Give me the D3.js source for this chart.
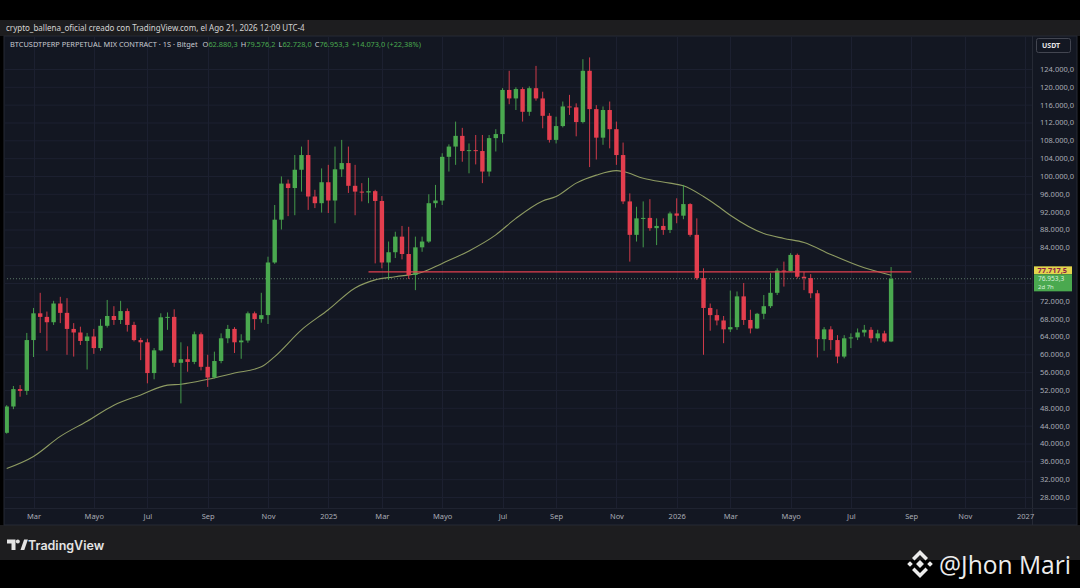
<!DOCTYPE html>
<html>
<head>
<meta charset="utf-8">
<script src="https://cdn.jsdelivr.net/npm/d3@7"></script>
<style>
  html, body { margin: 0; padding: 0; background: #000; }
  svg { display: block; font-family: "Noto Sans", Roboto, sans-serif; }
</style>
</head>
<body>
<svg id="chart" width="1080" height="588"></svg>
<script>
// weekly BTCUSDT perpetual candles, first bar = week of 5 Feb 2024
const firstWeek = "2024-02-05";
const open = [
  42400, 48300, 52200, 51800, 63200, 69200, 68400, 67200, 71400, 69300,
  65700, 64900, 63000, 64000, 61400, 66400, 68600, 67700, 69700, 66600,
  63200, 62700, 55800, 60900, 68300, 68400, 58100, 58900, 58300, 64500,
  57200, 54800, 58500, 63600, 65700, 62700, 63100, 69200, 67900, 68800,
  80600, 90200, 98300, 97300, 101400, 104700, 95400, 93900, 98600, 94500,
  101500, 102900, 97800, 96500, 96300, 96600, 94400, 80600, 82900, 86400,
  82500, 77800, 84000, 85300, 93900, 94500, 104300, 106600, 109000, 105600,
  105800, 105600, 101000, 108500, 109400, 119300, 117400, 119500, 114400, 119700,
  117400, 113500, 108100, 111200, 115600, 115400, 112100, 123600, 115000, 108600,
  114800, 110500, 104700, 94300, 86800, 90500, 90600, 88300, 88800, 87900,
  91600, 91100, 93700, 86800, 77100, 70400, 68800, 67600, 65600, 66100,
  73000, 67700, 65800, 69100, 70800, 73800, 78800, 78700, 82300, 77400,
  77100, 73700, 63400, 65600, 63200, 59500, 63600, 63800, 64900, 65500,
  63600, 64700, 62880.3
];
const high = [
  48600, 52900, 53100, 64800, 70400, 73800, 69600, 72000, 72900, 72600,
  67000, 66200, 64800, 65700, 67900, 72200, 70800, 72000, 70300, 67300,
  63700, 63500, 61400, 69200, 69400, 70100, 62700, 61800, 65100, 64900,
  59900, 60600, 64700, 66600, 66100, 64500, 69600, 69600, 73800, 81900,
  93500, 99900, 99200, 104700, 106600, 108100, 96900, 101700, 102500, 106600,
  108100, 106600, 102500, 98400, 99600, 96900, 95500, 85300, 87500, 88800,
  88600, 86400, 86400, 95900, 98000, 105100, 107100, 112200, 110800, 107300,
  109200, 109200, 109200, 110500, 119700, 123600, 119900, 119900, 120100, 124700,
  118900, 114100, 113300, 116700, 118200, 116300, 126200, 126600, 115900, 115600,
  116700, 112200, 107500, 96100, 93100, 94300, 94800, 90500, 90500, 92000,
  95000, 98000, 93900, 90500, 79300, 71400, 70100, 68600, 74300, 74100,
  76000, 70000, 69300, 73300, 78200, 79300, 80800, 82700, 82600, 78500,
  78000, 74400, 66100, 66300, 64300, 64300, 64700, 65800, 66600, 66100,
  65500, 65300, 79576.2
];
const low = [
  42200, 47700, 50500, 50900, 59400, 64800, 60800, 66600, 67000, 59900,
  59500, 62100, 56600, 60100, 60800, 66000, 66600, 66800, 65100, 62900,
  58700, 53500, 54400, 60700, 65500, 57200, 49000, 56100, 57800, 56400,
  52700, 54600, 58000, 62500, 60300, 59000, 62600, 65500, 67100, 66800,
  80300, 88000, 91000, 91200, 96500, 92400, 92800, 91800, 91700, 89400,
  99800, 96200, 91200, 94300, 93900, 80400, 79300, 76700, 81600, 81300,
  76900, 74400, 83000, 85000, 92900, 93500, 101000, 102500, 103200, 100600,
  102600, 98400, 99900, 105500, 107500, 116100, 114800, 112200, 113500, 116900,
  110700, 107500, 107300, 110900, 113700, 108900, 111800, 102000, 103700, 107000,
  106200, 102500, 93700, 80800, 85300, 84000, 87700, 84500, 86800, 87200,
  89400, 90300, 86400, 76700, 59900, 65300, 66500, 62500, 65000, 65500,
  66600, 64700, 65700, 67900, 70400, 73300, 75200, 78500, 77000, 74400,
  72600, 59300, 60800, 61000, 58000, 59100, 61400, 63200, 64000, 62600,
  62900, 62600, 62728.0
];
const close = [
  48300, 52200, 51800, 63200, 69200, 68400, 67200, 71400, 69300, 65700,
  64900, 63000, 64000, 61400, 66400, 68600, 67700, 69700, 66600, 63200,
  62700, 55800, 60900, 68300, 68400, 58100, 58900, 58300, 64500, 57200,
  54800, 58500, 63600, 65700, 62700, 63100, 69200, 67900, 68800, 80600,
  90200, 98300, 97300, 101400, 104700, 95400, 93900, 98600, 94500, 101500,
  102900, 97800, 96500, 96300, 96600, 94400, 80600, 82900, 86400, 82500,
  77800, 84000, 85300, 93900, 94500, 104300, 106600, 109000, 105600, 105800,
  105600, 101000, 108500, 109400, 119300, 117400, 119500, 114400, 119700, 117400,
  113500, 108100, 111200, 115600, 115400, 112100, 123600, 115000, 108600, 114800,
  110500, 104700, 94300, 86800, 90500, 90600, 88300, 88800, 87900, 91600,
  91100, 93700, 86800, 77100, 70400, 68800, 67600, 65600, 66100, 73000,
  67700, 65800, 69100, 70800, 73800, 78800, 78700, 82300, 77400, 77100,
  73700, 63400, 65600, 63200, 59500, 63600, 63800, 64900, 65500, 63600,
  64700, 62880.3, 76953.3
];

// moving average read at sample weeks (week index from firstWeek)
const maWeek = [0, 4, 8, 12, 16, 20, 24, 26, 30, 34, 38, 40, 44, 48, 52, 55, 58, 62,
  65, 69, 73, 76, 80, 82, 85, 88, 91, 92, 95, 99, 101, 104, 106, 108, 113, 116,
  119, 123, 128, 132];
const maValue = [34400, 37100, 41600, 45000, 48600, 50900, 53100, 53300, 54400,
  55800, 57200, 59500, 65500, 70000, 74900, 76700, 77400, 78400, 80400, 83200,
  86800, 90500, 94400, 95400, 98400, 100200, 101200, 101000, 99500, 98400, 97800,
  95400, 93400, 91200, 87100, 86000, 85100, 82400, 79400, 77717.5];

const priceTicks = [28000, 32000, 36000, 40000, 44000, 48000, 52000, 56000, 60000,
  64000, 68000, 72000, 76000, 80000, 84000, 88000, 92000, 96000, 100000, 104000,
  108000, 112000, 116000, 120000, 124000];
const monthTicks = ["2024-03-04", "2024-05-06", "2024-07-01", "2024-09-02", "2024-11-04",
  "2025-01-06", "2025-03-03", "2025-05-05", "2025-07-07", "2025-09-01", "2025-11-03",
  "2026-01-05", "2026-03-02", "2026-05-04", "2026-07-06", "2026-09-07", "2026-11-02",
  "2027-01-04"];
const monthLabels = ["Mar", "Mayo", "Jul", "Sep", "Nov", "2025", "Mar", "Mayo", "Jul",
  "Sep", "Nov", "2026", "Mar", "Mayo", "Jul", "Sep", "Nov", "2027"];

// horizontal level drawn on the chart
const levelPrice = 78500;
const levelFrom = "2025-02-17";
const levelTo = "2026-09-07";

const changeText = "+14.073,0 (+22,38%)";
const countdown = "2d 7h";

// ---------------------------------------------------------------
const svg = d3.select("#chart");
const W = 1080;
const panel = { left: 4, right: 1077, top: 36, bottom: 525 };
const plotRight = 1032;
const plotBottom = 508;

const upColor = "#4aa94f";
const downColor = "#e33e4e";
const textColor = "#a9acb5";

const parse = d3.utcParse("%Y-%m-%d");
const start = parse(firstWeek);
const weekDate = i => d3.utcDay.offset(start, 7 * i);
const candles = open.map((o, i) => ({
  date: weekDate(i), o, h: high[i], l: low[i], c: close[i]
}));
const last = candles[candles.length - 1];
const maLast = maValue[maValue.length - 1];

const x = d3.scaleUtc()
  .domain([start, weekDate(153)])
  .range([6.7, 1031.8]);
const y = d3.scaleLinear()
  .domain([28000, 124000])
  .range([497, 69]);

const tvLocale = d3.formatLocale({ decimal: ",", thousands: ".", grouping: [3], currency: ["", ""] });
const fmt = tvLocale.format(",.1f");

// frame
svg.append("rect").attr("width", W).attr("height", 588).attr("fill", "#000");
svg.append("rect").attr("x", 0).attr("y", 20).attr("width", W).attr("height", 16).attr("fill", "#1d1d1f");
svg.append("rect").attr("x", 0).attr("y", panel.bottom).attr("width", W).attr("height", 35).attr("fill", "#1d1d1f");
svg.append("rect")
  .attr("x", panel.left).attr("y", panel.top)
  .attr("width", panel.right - panel.left).attr("height", panel.bottom - panel.top)
  .attr("fill", "#131722").attr("stroke", "#262a35").attr("stroke-width", 1);

svg.append("text")
  .attr("x", 6).attr("y", 31)
  .attr("font-size", 8).attr("fill", "#d4d4d4")
  .text("crypto_ballena_oficial creado con TradingView.com, el Ago 21, 2026 12:09 UTC-4");

// grid
const grid = svg.append("g").attr("class", "grid");
grid.selectAll(".hgrid")
  .data(priceTicks)
  .enter()
  .append("line")
  .attr("x1", panel.left + 1).attr("x2", plotRight)
  .attr("y1", d => y(d) + 0.5).attr("y2", d => y(d) + 0.5)
  .attr("stroke", "#1c2030");
grid.selectAll(".vgrid")
  .data(monthTicks)
  .enter()
  .append("line")
  .attr("x1", d => Math.round(x(parse(d))) + 0.5).attr("x2", d => Math.round(x(parse(d))) + 0.5)
  .attr("y1", panel.top + 1).attr("y2", plotBottom)
  .attr("stroke", "#1c2030");

// axis separators
svg.append("line")
  .attr("x1", plotRight + 0.5).attr("x2", plotRight + 0.5)
  .attr("y1", panel.top).attr("y2", panel.bottom)
  .attr("stroke", "#262a35");
svg.append("line")
  .attr("x1", panel.left).attr("x2", panel.right)
  .attr("y1", plotBottom + 0.5).attr("y2", plotBottom + 0.5)
  .attr("stroke", "#1f2330");

const plot = svg.append("g");
plot.append("clipPath").attr("id", "clip")
  .append("rect")
  .attr("x", panel.left + 1).attr("y", panel.top + 1)
  .attr("width", plotRight - panel.left - 1).attr("height", plotBottom - panel.top - 1);
const body = plot.append("g").attr("clip-path", "url(#clip)");

// last price dotted line
body.append("line")
  .attr("x1", panel.left).attr("x2", plotRight)
  .attr("y1", y(last.c)).attr("y2", y(last.c))
  .attr("stroke", "#6f8f78").attr("stroke-width", 0.8)
  .attr("stroke-dasharray", "1,2");

// moving average
const maLine = d3.line()
  .x(d => x(weekDate(d[0])))
  .y(d => y(d[1]))
  .curve(d3.curveMonotoneX);
body.append("path")
  .datum(maWeek.map((w, i) => [w, maValue[i]]))
  .attr("d", maLine)
  .attr("fill", "none")
  .attr("stroke", "#8e9b62")
  .attr("stroke-width", 1.1);

// candles
const bw = 4.4;
const candle = body.selectAll(".candle")
  .data(candles)
  .enter()
  .append("g")
  .attr("class", "candle");
candle.append("line")
  .attr("x1", d => x(d.date)).attr("x2", d => x(d.date))
  .attr("y1", d => y(d.h)).attr("y2", d => y(d.l))
  .attr("stroke", d => d.c >= d.o ? upColor : downColor)
  .attr("stroke-width", 0.9);
candle.append("rect")
  .attr("x", d => x(d.date) - bw / 2)
  .attr("y", d => y(Math.max(d.o, d.c)))
  .attr("width", bw)
  .attr("height", d => Math.max(1, Math.abs(y(d.o) - y(d.c))))
  .attr("fill", d => d.c >= d.o ? upColor : downColor);

// horizontal level
body.append("line")
  .attr("x1", x(parse(levelFrom))).attr("x2", x(parse(levelTo)))
  .attr("y1", y(levelPrice)).attr("y2", y(levelPrice))
  .attr("stroke", "#e2404f").attr("stroke-width", 1.2);

// price tags sit over the scale, labels under them are hidden
const maTagY = y(maLast) - 9;
const lastTagY = maTagY + 8;
const tagBottom = lastTagY + 17;

const yAxis = svg.append("g")
  .attr("transform", `translate(${plotRight},0)`)
  .call(d3.axisRight(y)
    .tickValues(priceTicks.filter(t => y(t) < maTagY - 2 || y(t) > tagBottom + 3))
    .tickFormat(fmt).tickSize(0).tickPadding(8));
yAxis.select(".domain").remove();
yAxis.selectAll("text").attr("font-size", 7.5).attr("fill", textColor)
  .attr("font-family", "\"Noto Sans\", Roboto, sans-serif");

// time axis
const xAxis = svg.append("g")
  .attr("transform", `translate(0,${plotBottom + 1})`)
  .call(d3.axisBottom(x).tickValues(monthTicks.map(parse))
    .tickFormat((d, i) => monthLabels[i]).tickSize(0).tickPadding(5));
xAxis.select(".domain").remove();
xAxis.selectAll("text").attr("font-size", 7.5).attr("fill", textColor)
  .attr("font-family", "\"Noto Sans\", Roboto, sans-serif");

// currency box
svg.append("rect")
  .attr("x", 1036.5).attr("y", 38.5).attr("width", 34).attr("height", 14).attr("rx", 2)
  .attr("fill", "#131722").attr("stroke", "#434651");
svg.append("text")
  .attr("x", 1042).attr("y", 48).attr("font-size", 7).attr("font-weight", 700)
  .attr("fill", "#e6e6e6").text("USDT");

svg.append("rect")
  .attr("x", 1034).attr("y", maTagY).attr("width", 38).attr("height", 8)
  .attr("fill", "#e2d54d");
svg.append("text")
  .attr("x", 1037.5).attr("y", maTagY + 6.8).attr("font-size", 7.4).attr("font-weight", 700)
  .attr("fill", "#8e1d4a").text(fmt(maLast));
svg.append("rect")
  .attr("x", 1034).attr("y", lastTagY).attr("width", 38).attr("height", 17)
  .attr("fill", "#4aa94f");
svg.append("text")
  .attr("x", 1038).attr("y", lastTagY + 6.8).attr("font-size", 6.6)
  .attr("fill", "#d9f0da").text(fmt(last.c));
svg.append("text")
  .attr("x", 1038).attr("y", lastTagY + 14.8).attr("font-size", 6)
  .attr("fill", "#d9f0da").text(countdown);

// legend row
const legend = svg.append("text")
  .attr("x", 10).attr("y", 47).attr("font-size", 7.4).attr("fill", "#c9cbd1");
legend.append("tspan").text("BTCUSDTPERP PERPETUAL MIX CONTRACT · 1S · Bitget");
[["O", last.o], ["H", last.h], ["L", last.l], ["C", last.c]].forEach(([k, v], i) => {
  legend.append("tspan").attr("dx", i === 0 ? 5 : 3).attr("fill", "#c9cbd1").text(k);
  legend.append("tspan").attr("fill", upColor).text(fmt(v));
});
legend.append("tspan").attr("dx", 3).attr("fill", upColor).text(changeText);

// TradingView footer logo
const logo = svg.append("g").attr("fill", "#e4e4e4");
logo.append("path").attr("d", "M7 539.5 h8.5 v10.5 h-4 v-6.5 h-4.5 z");
logo.append("circle").attr("cx", 17.8).attr("cy", 541.6).attr("r", 2);
logo.append("path").attr("d", "M20.5 550 l3.6 -10.5 h3.8 l-3.6 10.5 z");
svg.append("text")
  .attr("x", 28).attr("y", 549.5).attr("font-size", 12.5).attr("font-weight", 600)
  .attr("font-family", "Inter, \"Noto Sans\", sans-serif")
  .attr("fill", "#e4e4e4").text("TradingView");

// author watermark
const mark = svg.append("g").attr("fill", "#ececec").attr("transform", "translate(920,564)");
mark.append("rect").attr("x", -2.8).attr("y", -2.8).attr("width", 5.6).attr("height", 5.6)
  .attr("transform", "rotate(45)");
[[-10, 0], [10, 0]].forEach(([dx, dy]) => {
  mark.append("rect").attr("x", dx - 2).attr("y", dy - 2).attr("width", 4).attr("height", 4)
    .attr("transform", `rotate(45 ${dx} ${dy})`);
});
mark.append("path").attr("d", "M0 -14 L8 -6 L5.5 -3.5 L0 -9 L-5.5 -3.5 L-8 -6 Z");
mark.append("path").attr("d", "M0 14 L8 6 L5.5 3.5 L0 9 L-5.5 3.5 L-8 6 Z");
svg.append("text")
  .attr("x", 939).attr("y", 574).attr("font-size", 25)
  .attr("font-family", "\"Open Sans\", \"Noto Sans\", sans-serif")
  .attr("textLength", 132).attr("lengthAdjust", "spacingAndGlyphs")
  .attr("fill", "#ececec").text("@Jhon Mari");
</script>
</body>
</html>
